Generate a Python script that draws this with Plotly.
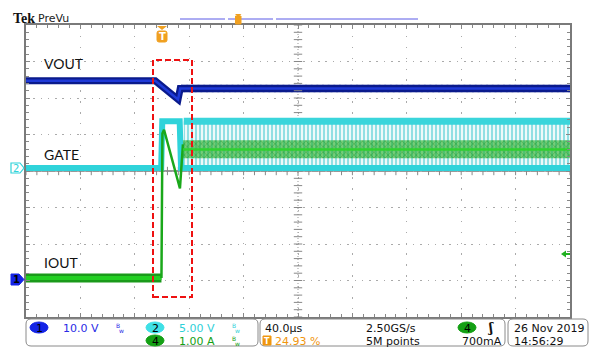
import numpy as np
import plotly.graph_objects as go

W, H = 598, 357

# ---------------- data ----------------
# channel settings
ch1_scale, ch1_pos = 10.0, -2.97   # VOUT  (V/div, ground position in div)
ch2_scale, ch2_pos = 5.0, 0.08     # GATE  (V/div)
ch4_scale, ch4_pos = 1.0, -2.97    # IOUT  (A/div)
time_div = 40.0                     # µs/div
trig_pct = 24.93                    # trigger position, % of record
trig_level = 0.7                    # A

# VOUT (V)
vout_t = [-100.0, -5.0, 11.8, 13.4, 300.0]
vout_v = [54.4, 54.4, 49.3, 52.3, 52.3]
vout_rip_t = [14.0, 300.0]
vout_rip_hi = [53.4, 53.4]
vout_rip_lo = [51.2, 51.2]

# GATE (V)
gate_t = [-100.0, -0.6, 0.2, 13.0, 14.0, 300.0]
gate_v = [0.0, 0.0, 6.4, 6.4, 0.0, 0.0]
gate_sw_t = [16.0, 300.0]
gate_sw_hi = [6.4, 6.4]
gate_sw_lo = [0.0, 0.0]

# IOUT (A)
iout_pre_t = [-100.0, -0.4]
iout_pre_a = [0.04, 0.04]
iout_evt_t = [-0.4, 0.3, 1.5, 13.2, 15.4]
iout_evt_a = [0.04, 4.0, 4.10, 2.49, 3.70]
iout_rip_t = [15.4, 300.0]
iout_rip_hi = [3.81, 3.81]
iout_rip_lo = [3.32, 3.32]
iout_rip_mid = [3.56, 3.56]

# ---------------- derived axis ranges ----------------
n_xdiv, n_ydiv = 10, 8
t_left = -trig_pct / 100 * n_xdiv * time_div
t_left = round(t_left / 10) * 10  # -100 µs
t_right = t_left + n_xdiv * time_div


def yrange(scale, pos):
    return [(-n_ydiv / 2 - pos) * scale, (n_ydiv / 2 - pos) * scale]


y1r = yrange(ch1_scale, ch1_pos)
y2r = yrange(ch2_scale, ch2_pos)
y3r = yrange(ch4_scale, ch4_pos)

# plot area in pixels
PL, PR, PT, PB = 26, 570, 25, 317


def fx(x):
    return x / W


def fy(y):
    return 1 - y / H


def band(t, hi, lo):
    return list(t) + list(t)[::-1], list(hi) + list(lo)[::-1]


fig = go.Figure()

# ---- GATE (ch2, cyan) ----
bx, by = band(gate_sw_t, gate_sw_hi, gate_sw_lo)
fig.add_trace(go.Scatter(x=bx, y=by, yaxis="y2", mode="none", fill="toself",
                         fillcolor="#eef9f9",
                         fillpattern=dict(shape="|", size=4, solidity=0.45,
                                          fgcolor="#1fbfc8", fillmode="overlay"),
                         hoverinfo="skip", showlegend=False))
fig.add_trace(go.Scatter(x=gate_t, y=gate_v, yaxis="y2", mode="lines",
                         line=dict(color="#2fd3da", width=6),
                         hoverinfo="skip", showlegend=False))
fig.add_trace(go.Scatter(x=gate_sw_t, y=gate_sw_hi, yaxis="y2", mode="lines",
                         line=dict(color="#3ad5db", width=7),
                         hoverinfo="skip", showlegend=False))

# ---- IOUT (ch4, green) ----
fig.add_trace(go.Scatter(x=iout_pre_t, y=iout_pre_a, yaxis="y3", mode="lines",
                         line=dict(color="#1a9a1a", width=9),
                         hoverinfo="skip", showlegend=False))
fig.add_trace(go.Scatter(x=iout_pre_t, y=iout_pre_a, yaxis="y3", mode="lines",
                         line=dict(color="#22d022", width=4),
                         hoverinfo="skip", showlegend=False))
fig.add_trace(go.Scatter(x=iout_evt_t, y=iout_evt_a, yaxis="y3", mode="lines",
                         line=dict(color="#1aa81a", width=2.5),
                         hoverinfo="skip", showlegend=False))
bx, by = band(iout_rip_t, iout_rip_hi, iout_rip_lo)
fig.add_trace(go.Scatter(x=bx, y=by, yaxis="y3", mode="none", fill="toself",
                         fillcolor="rgba(35,175,35,0.6)",
                         fillpattern=dict(shape="x", size=4, solidity=0.25,
                                          fgcolor="#0c7a0c", fillmode="overlay"),
                         hoverinfo="skip", showlegend=False))
fig.add_trace(go.Scatter(x=iout_rip_t, y=iout_rip_mid, yaxis="y3", mode="lines",
                         line=dict(color="#2fd02f", width=2.5),
                         hoverinfo="skip", showlegend=False))

# ---- VOUT (ch1, blue) ----
fig.add_trace(go.Scatter(x=vout_t, y=vout_v, yaxis="y", mode="lines",
                         line=dict(color="#0a1a8c", width=7),
                         hoverinfo="skip", showlegend=False))
bx, by = band(vout_rip_t, vout_rip_hi, vout_rip_lo)
fig.add_trace(go.Scatter(x=bx, y=by, yaxis="y", mode="none", fill="toself",
                         fillcolor="rgba(10,26,140,0.6)",
                         fillpattern=dict(shape="x", size=4, solidity=0.35,
                                          fgcolor="#0a1a8c", fillmode="overlay"),
                         hoverinfo="skip", showlegend=False))
fig.add_trace(go.Scatter(x=vout_t, y=vout_v, yaxis="y", mode="lines",
                         line=dict(color="#1f3ad8", width=2.5),
                         hoverinfo="skip", showlegend=False))

# ---- center crosshair ticks ----
t_center = (t_left + t_right) / 2
y1_center = (y1r[0] + y1r[1]) / 2
xt = np.arange(t_left, t_right + 1e-9, time_div / 5)
yt = np.arange(y1r[0], y1r[1] + 1e-9, ch1_scale / 5)
fig.add_trace(go.Scatter(x=xt, y=[y1_center] * len(xt), mode="markers",
                         marker=dict(symbol="line-ns", size=6,
                                     line=dict(color="#888", width=1)),
                         hoverinfo="skip", showlegend=False))
fig.add_trace(go.Scatter(x=[t_center] * len(yt), y=yt, mode="markers",
                         marker=dict(symbol="line-ew", size=6,
                                     line=dict(color="#888", width=1)),
                         hoverinfo="skip", showlegend=False))

shapes = []
annotations = []

# center lines
shapes.append(dict(type="line", xref="x", yref="y domain", x0=t_center, x1=t_center,
                   y0=0, y1=1, line=dict(color="#999", width=1, dash="1px,2px"), layer="below"))
shapes.append(dict(type="line", xref="x domain", yref="y", x0=0, x1=1,
                   y0=y1_center, y1=y1_center, line=dict(color="#333", width=1), layer="below"))

# red dashed highlight box (around the transient)
shapes.append(dict(type="rect", xref="paper", yref="paper",
                   x0=fx(153), x1=fx(192), y0=fy(297), y1=fy(60),
                   line=dict(color="#ee1111", width=2, dash="6px,3px")))


def rrect(x0, y0, x1, y1, r=5):
    pts = (f"M{fx(x0 + r)},{fy(y0)} L{fx(x1 - r)},{fy(y0)} "
           f"Q{fx(x1)},{fy(y0)} {fx(x1)},{fy(y0 + r)} L{fx(x1)},{fy(y1 - r)} "
           f"Q{fx(x1)},{fy(y1)} {fx(x1 - r)},{fy(y1)} L{fx(x0 + r)},{fy(y1)} "
           f"Q{fx(x0)},{fy(y1)} {fx(x0)},{fy(y1 - r)} L{fx(x0)},{fy(y0 + r)} "
           f"Q{fx(x0)},{fy(y0)} {fx(x0 + r)},{fy(y0)} Z")
    return pts


# info boxes
for (a, b) in [(26, 258), (260, 505), (508, 588)]:
    shapes.append(dict(type="path", xref="paper", yref="paper", path=rrect(a, 319, b, 346),
                       line=dict(color="#8a8a8a", width=1)))


def ell(x0, y0, x1, y1, color):
    shapes.append(dict(type="circle", xref="paper", yref="paper",
                       x0=fx(x0), x1=fx(x1), y0=fy(y1), y1=fy(y0),
                       fillcolor=color, line=dict(color=color, width=1)))


ell(30, 322, 48, 333, "#1424e6")
ell(146, 322, 164, 333, "#3ee0e6")
ell(146, 335, 164, 346, "#14a014")
ell(458, 322, 476, 333, "#14a014")


def txt(x, y, s, color="#111", size=11, family="DejaVu Sans", anchor="left", bold=False):
    if bold:
        s = f"<b>{s}</b>"
    annotations.append(dict(xref="paper", yref="paper", x=fx(x), y=fy(y), text=s,
                            showarrow=False, xanchor=anchor, yanchor="middle",
                            font=dict(color=color, size=size, family=family)))


def bw(x, y, color):
    txt(x, y - 2.5, "B", color, 6)
    txt(x + 3, y + 2, "w", color, 6)


txt(39, 328, "1", "#000", 11, anchor="center")
txt(155, 328, "2", "#000", 11, anchor="center")
txt(155, 341, "4", "#000", 11, anchor="center")
txt(467, 328, "4", "#000", 11, anchor="center")
txt(61, 328, f"{ch1_scale:.1f} V", "#2a2ae6")
txt(177, 328, f"{ch2_scale:.2f} V", "#2ed0d8")
txt(177, 341, f"{ch4_scale:.2f} A", "#14a014")
bw(114, 328, "#2a2ae6")
bw(230, 328, "#2ed0d8")
bw(230, 341, "#14a014")
txt(263, 328, f"{time_div:.1f}µs", "#111")
txt(273, 341, f"{trig_pct:.2f} %", "#f0960f")
txt(364, 328, "2.50GS/s", "#111")
txt(364, 341, "5M points", "#111")
txt(486, 328, "ʃ", "#111", 12, family="DejaVu Serif", bold=True)
txt(460, 341, f"{int(trig_level * 1000)}mA", "#111")
txt(512, 328, "26 Nov 2019", "#111")
txt(512, 341, "14:56:29", "#111")
# orange T icon in info box
shapes.append(dict(type="rect", xref="paper", yref="paper", x0=fx(263), x1=fx(271),
                   y0=fy(345), y1=fy(336), fillcolor="#f0960f", line=dict(color="#f0960f", width=1)))
txt(267, 341, "T", "#fff", 8, anchor="center", bold=True)

# trace labels
txt(42, 63, "VOUT", "#111", 14, family="Lato")
txt(42, 154, "GATE", "#111", 14, family="Lato")
txt(42, 262, "IOUT", "#111", 14, family="Lato")

# top header
txt(11, 18, "Tek", "#111", 14, family="Liberation Serif", bold=True)
txt(36, 18, "PreVu", "#222", 11)
for (a, b) in [(180, 225), (228, 273), (276, 418)]:
    shapes.append(dict(type="line", xref="paper", yref="paper", x0=fx(a), x1=fx(b),
                       y0=fy(19), y1=fy(19), line=dict(color="#5a5ae6", width=1)))
shapes.append(dict(type="rect", xref="paper", yref="paper", x0=fx(235.5), x1=fx(241),
                   y0=fy(24), y1=fy(16), fillcolor="#f0a020", line=dict(color="#f0a020", width=1)))
shapes.append(dict(type="path", xref="paper", yref="paper",
                   path=f"M{fx(235)},{fy(14)} L{fx(241.5)},{fy(14)} L{fx(238.2)},{fy(17)} Z",
                   fillcolor="#f0a020", line=dict(color="#f0a020", width=0)))

# trigger position marker
shapes.append(dict(type="path", xref="paper", yref="paper",
                   path=f"M{fx(157)},{fy(26)} L{fx(167)},{fy(26)} L{fx(162)},{fy(30)} Z",
                   fillcolor="#f0a020", line=dict(color="#f0a020", width=0)))
shapes.append(dict(type="path", xref="paper", yref="paper", path=rrect(157, 31, 167, 42, 2),
                   fillcolor="#f0a020", line=dict(color="#f0a020", width=1)))
txt(162, 36.5, "T", "#fff", 10, anchor="center", bold=True)

# channel ground markers on the left
shapes.append(dict(type="path", xref="paper", yref="paper",
                   path=(f"M{fx(11)},{fy(163)} L{fx(20)},{fy(163)} L{fx(24)},{fy(168)} "
                         f"L{fx(20)},{fy(173)} L{fx(11)},{fy(173)} Z"),
                   fillcolor="#ffffff", line=dict(color="#2fd3da", width=1.2)))
txt(16, 168, "2", "#2fd3da", 10, anchor="center")
shapes.append(dict(type="path", xref="paper", yref="paper",
                   path=(f"M{fx(11)},{fy(274)} L{fx(19)},{fy(274)} L{fx(24)},{fy(279.5)} "
                         f"L{fx(19)},{fy(285)} L{fx(11)},{fy(285)} Z"),
                   fillcolor="#1424e6", line=dict(color="#1424e6", width=1)))
txt(16, 279.5, "1", "#000", 10, anchor="center", bold=True)

# trigger level arrow (right side)
shapes.append(dict(type="path", xref="paper", yref="paper",
                   path=(f"M{fx(561)},{fy(254)} L{fx(566)},{fy(250.5)} L{fx(566)},{fy(257.5)} Z"),
                   fillcolor="#20b020", line=dict(color="#20b020", width=0)))
shapes.append(dict(type="line", xref="paper", yref="paper", x0=fx(565), x1=fx(570),
                   y0=fy(254), y1=fy(254), line=dict(color="#20b020", width=2)))

axis_common = dict(showticklabels=False, zeroline=False, fixedrange=True,
                   showline=True, linecolor="#7a7a7a", linewidth=1.5, mirror="ticks",
                   ticks="inside", ticklen=4, tickcolor="#888", tickwidth=1,
                   showgrid=True, gridcolor="#aaaaaa", gridwidth=1)

fig.update_layout(
    width=W, height=H, margin=dict(l=0, r=0, t=0, b=0),
    paper_bgcolor="white", plot_bgcolor="white", showlegend=False,
    xaxis=dict(domain=[fx(PL), fx(PR)], range=[t_left, t_right], tick0=t_left, dtick=time_div,
               griddash="1.5px,9.38px",
               minor=dict(dtick=time_div / 5, tick0=t_left, ticks="inside", ticklen=3,
                          tickcolor="#888", showgrid=False),
               **axis_common),
    yaxis=dict(domain=[fy(PB), fy(PT)], range=y1r, tick0=y1r[0], dtick=ch1_scale,
               griddash="1.5px,5.8px",
               minor=dict(dtick=ch1_scale / 5, tick0=y1r[0], ticks="inside", ticklen=3,
                          tickcolor="#888", showgrid=False),
               **axis_common),
    yaxis2=dict(domain=[fy(PB), fy(PT)], range=y2r, overlaying="y", visible=False, fixedrange=True),
    yaxis3=dict(domain=[fy(PB), fy(PT)], range=y3r, overlaying="y", visible=False, fixedrange=True),
    shapes=shapes, annotations=annotations,
)

fig.write_html("out.html", config={"displayModeBar": False},
               post_script="document.body.style.margin='0';document.body.style.padding='0';")
